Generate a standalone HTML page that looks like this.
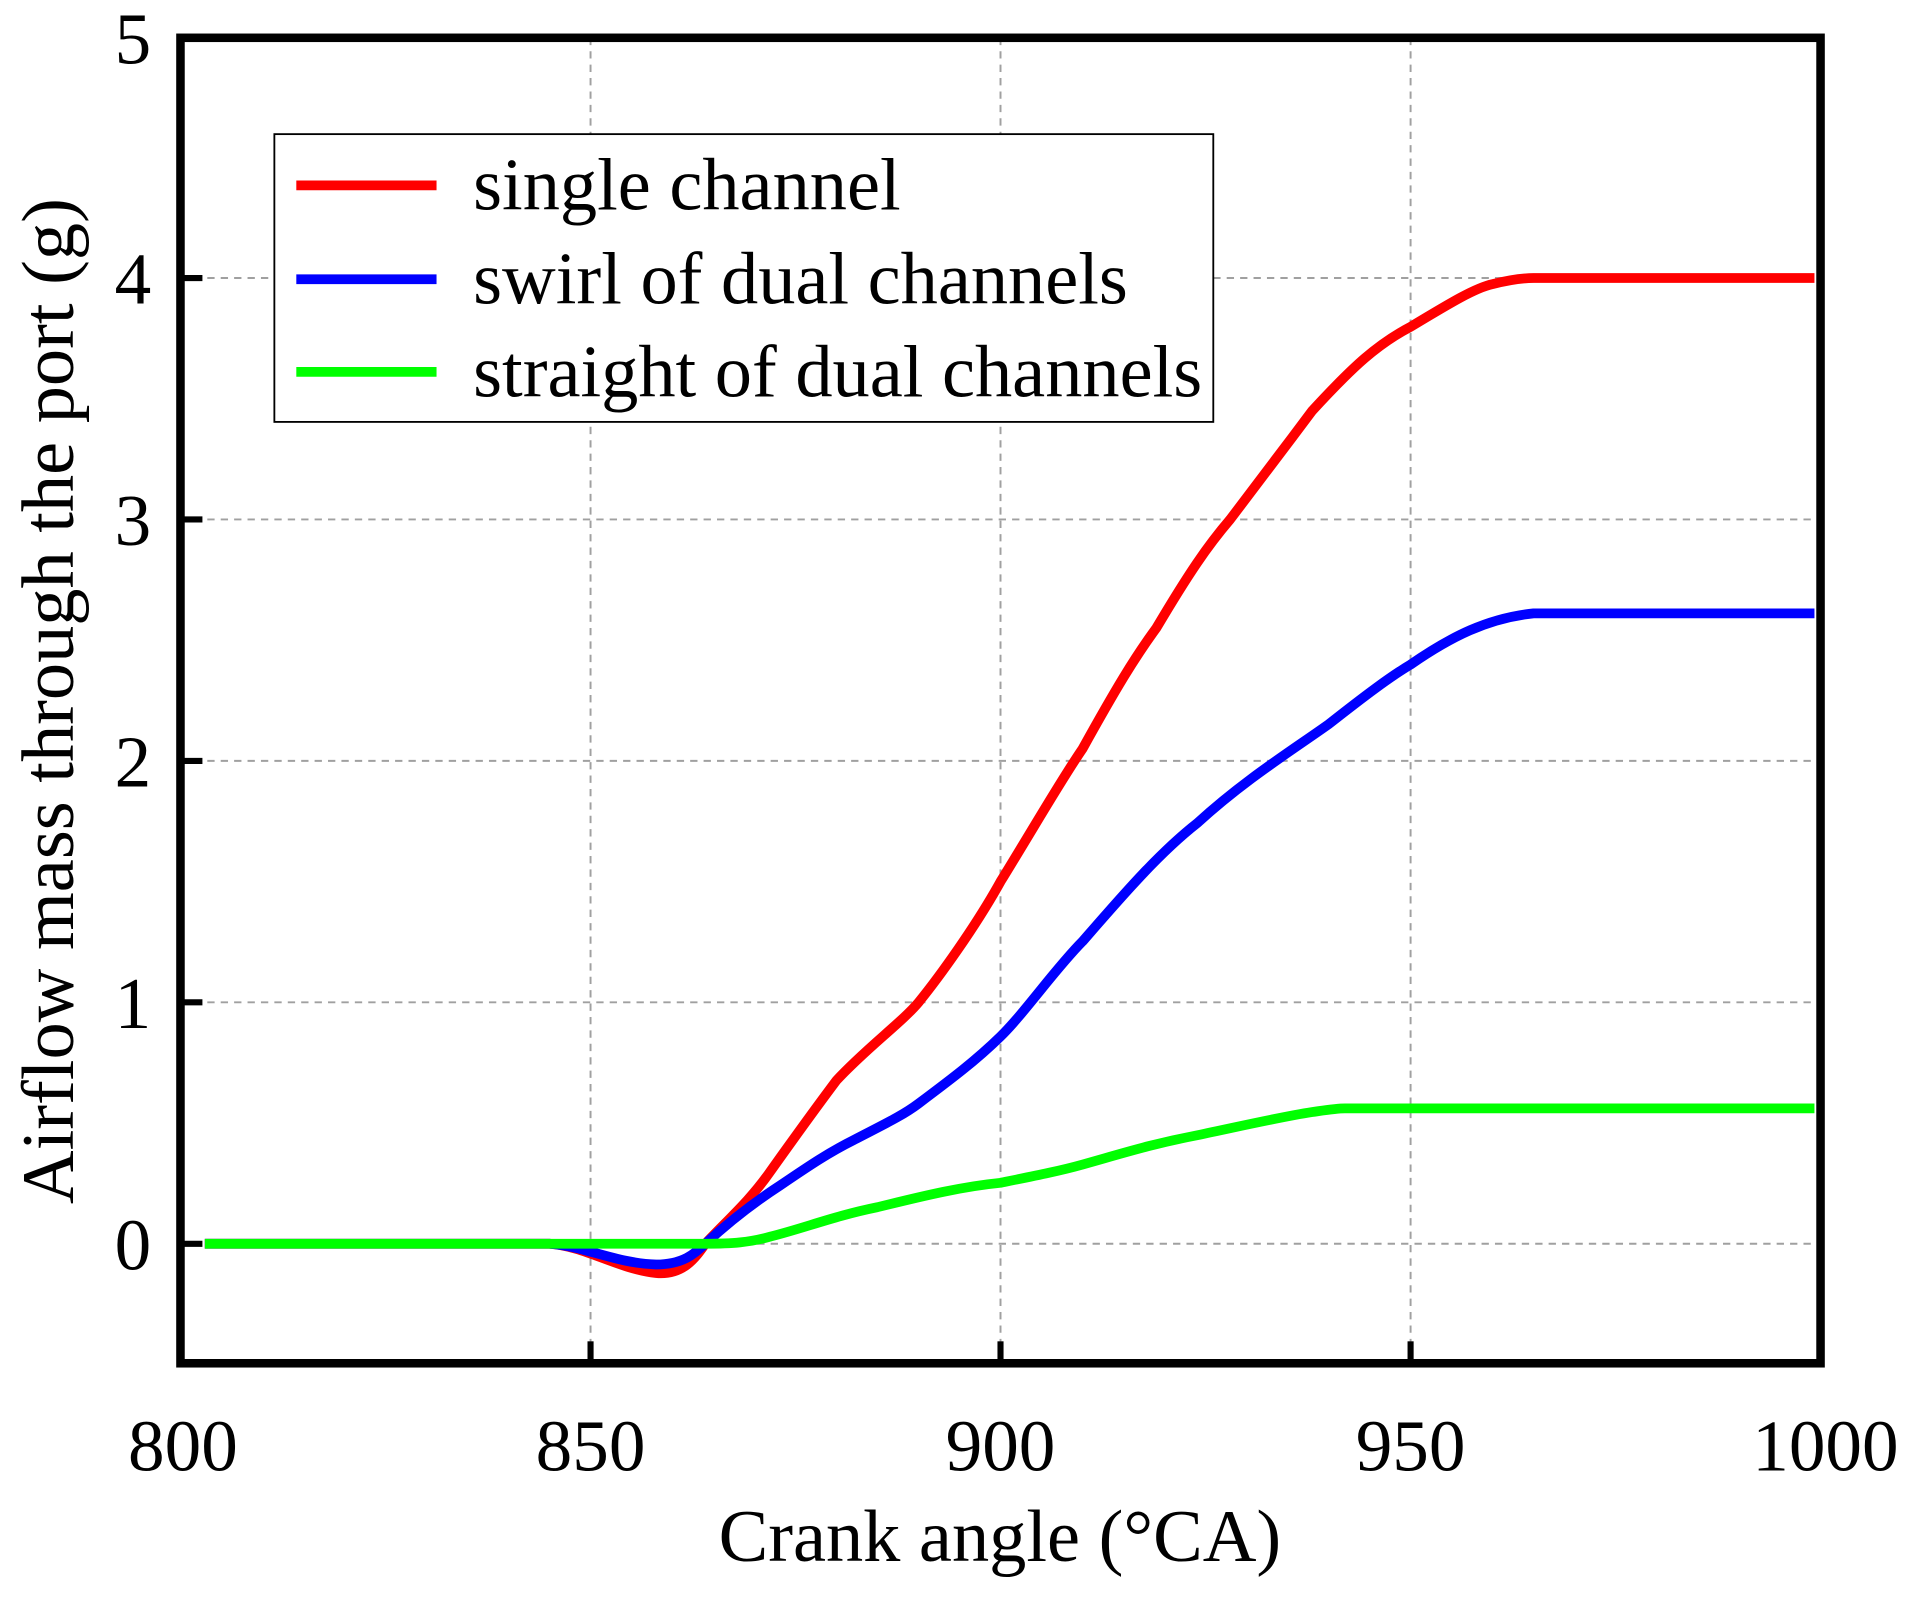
<!DOCTYPE html>
<html><head><style>html,body{margin:0;padding:0;background:#fff}svg{display:block}</style></head>
<body>
<svg width="1912" height="1598" viewBox="0 0 1568 1310.5" preserveAspectRatio="none" xmlns="http://www.w3.org/2000/svg" font-family="Liberation Serif, serif">
<g stroke="#a0a0a0" stroke-width="1.6" stroke-dasharray="6,5" fill="none">
<line x1="484.3" y1="31" x2="484.3" y2="1118"/>
<line x1="820.5" y1="31" x2="820.5" y2="1118"/>
<line x1="1156.8" y1="31" x2="1156.8" y2="1118"/>
<line x1="148" y1="1020" x2="1493" y2="1020"/>
<line x1="148" y1="822" x2="1493" y2="822"/>
<line x1="148" y1="624" x2="1493" y2="624"/>
<line x1="148" y1="426" x2="1493" y2="426"/>
<line x1="148" y1="228" x2="1493" y2="228"/>
</g>
<g fill="none" stroke-width="8" stroke-linejoin="round" stroke-linecap="butt">
<path stroke="#ff0000" d="M168,1020 L450.6,1020 C480,1022 505,1040 538,1044 C560,1046 570,1032 578.4,1020 C595,1002 615,985 632.2,960 C650,935 668,910 686,886 C710,860 740,838 753.3,822 C770,801.5 800,760 820.5,723 C850,675 870,640 887.8,614 C915,565 930,540 948.3,515 C975,470 990,448 1008.8,426 C1040,385 1055,365 1076,337 C1110,300 1130,282 1156.8,268 C1190,248 1210,236 1224,233 C1240,229 1250,228 1257.6,228 L1488,228"/>
<path stroke="#0000ff" d="M168,1020 L450.6,1020 C480,1022 505,1036 538,1037 C560,1037 570,1028 578.4,1020 C600,1000 620,985 640,972 C665,955 680,945 700,935 C725,922 740,915 753.3,905 C780,885 800,870 820.5,850 C840,831 865,795 887.8,772 C920,735 950,700 981.9,675 C1020,640 1060,615 1089.5,594 C1120,570 1140,555 1156.8,545 C1190,522 1220,507 1257.6,503 L1488,503"/>
<path stroke="#00ff00" d="M168,1020 L578.4,1020 C600,1020 615,1019 632.2,1014 C660,1007 685,997 719.6,990 C760,980 790,973 820.5,970 C850,964 870,960 887.8,955 C920,946 945,938 981.9,931 C1020,923 1050,916 1076,912 C1090,910 1096,909 1103,909 L1488,909"/>
</g>
<g stroke="#000" stroke-width="5">
<line x1="484.3" y1="1118" x2="484.3" y2="1100"/>
<line x1="820.5" y1="1118" x2="820.5" y2="1100"/>
<line x1="1156.8" y1="1118" x2="1156.8" y2="1100"/>
<line x1="148" y1="1020" x2="166" y2="1020"/>
<line x1="148" y1="822" x2="166" y2="822"/>
<line x1="148" y1="624" x2="166" y2="624"/>
<line x1="148" y1="426" x2="166" y2="426"/>
<line x1="148" y1="228" x2="166" y2="228"/>
</g>
<rect x="148" y="31" width="1345" height="1087" fill="none" stroke="#000" stroke-width="7"/>
<rect x="225" y="110" width="770" height="236" fill="#fff" stroke="#000" stroke-width="1.5"/>
<g stroke-width="8">
<line x1="243" y1="152" x2="358" y2="152" stroke="#ff0000"/>
<line x1="243" y1="229" x2="358" y2="229" stroke="#0000ff"/>
<line x1="243" y1="305" x2="358" y2="305" stroke="#00ff00"/>
</g>
<g font-size="61" fill="#000">
<text x="388" y="172">single channel</text>
<text x="388" y="249">swirl of dual channels</text>
<text x="388" y="325">straight of dual channels</text>
</g>
<g font-size="60" fill="#000" text-anchor="middle">
<text x="150" y="1206">800</text>
<text x="484.3" y="1206">850</text>
<text x="820.5" y="1206">900</text>
<text x="1156.8" y="1206">950</text>
<text x="1497" y="1206">1000</text>
<text x="820" y="1280" font-size="61">Crank angle (°CA)</text>
</g>
<g font-size="60" fill="#000" text-anchor="end">
<text x="124" y="1041">0</text>
<text x="124" y="843">1</text>
<text x="124" y="645">2</text>
<text x="124" y="447">3</text>
<text x="124" y="249">4</text>
<text x="124" y="52">5</text>
</g>
<text transform="translate(60,575) rotate(-90)" font-size="61" text-anchor="middle" fill="#000">Airflow mass through the port (g)</text>
</svg>
</body></html>
